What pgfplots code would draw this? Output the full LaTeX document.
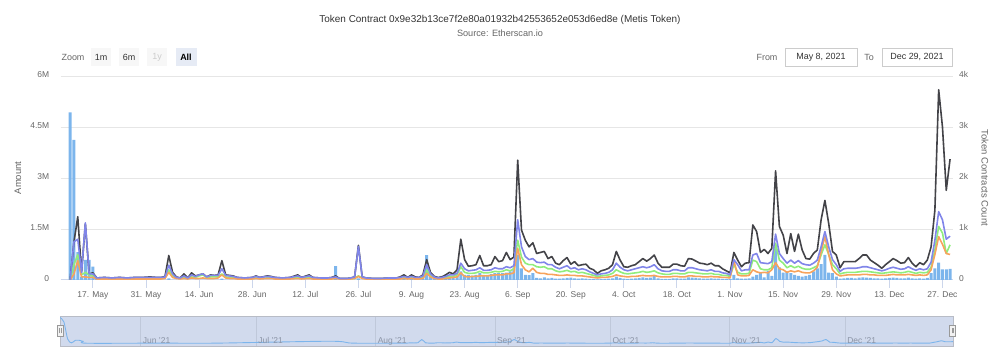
\documentclass[border=0pt]{standalone}
\usepackage{pgfplots}
\pgfplotsset{compat=1.18}
\usepackage{pgfplotstable}
\usepackage{fontspec}
\setmainfont{Liberation Sans}
\definecolor{cbar}{HTML}{7CB5EC}
\definecolor{cblk}{HTML}{434348}
\definecolor{cgrn}{HTML}{90ED7D}
\definecolor{corg}{HTML}{F7A35C}
\definecolor{cpur}{HTML}{8085E9}
\definecolor{cgrid}{HTML}{E6E6E6}
\definecolor{caxis}{HTML}{CCD6EB}
\definecolor{clab}{HTML}{666666}
\definecolor{ctitle}{HTML}{333333}
\definecolor{navfill}{HTML}{D1DAED}
\definecolor{navgrid}{HTML}{BFC8DA}
\definecolor{navlab}{HTML}{8A93A5}
\definecolor{navout}{HTML}{B8BCC6}
\definecolor{btn}{HTML}{F7F7F7}
\definecolor{btnsel}{HTML}{E6EBF5}
\definecolor{inbox}{HTML}{CCCCCC}

% Amount (bars), in millions; d = days after 8 May 2021
\pgfplotstableread{
d A
3 4.93
4 4.12
5 0.82
6 0.10
7 0.59
8 0.59
9 0.39
10 0.03
29 0.05
43 0.04
73 0.41
79 0.05
91 0.04
93 0.05
94 0.10
95 0.08
96 0.12
97 0.73
98 0.10
99 0.05
100 0.04
101 0.12
102 0.12
103 0.08
104 0.10
105 0.12
106 0.25
107 0.15
108 0.15
109 0.13
110 0.15
111 0.20
112 0.15
113 0.15
114 0.17
115 0.20
116 0.20
117 0.20
118 0.22
119 0.25
120 0.34
121 0.74
122 0.34
123 0.15
124 0.14
125 0.20
126 0.06
127 0.05
128 0.08
129 0.05
130 0.06
131 0.04
132 0.04
133 0.05
134 0.06
135 0.07
136 0.05
137 0.04
138 0.05
139 0.04
140 0.03
141 0.03
142 0.02
143 0.03
144 0.03
145 0.04
146 0.05
147 0.10
148 0.06
149 0.04
150 0.03
151 0.04
152 0.05
153 0.06
154 0.08
155 0.06
156 0.07
157 0.12
158 0.05
159 0.03
160 0.03
161 0.03
162 0.05
163 0.05
164 0.04
165 0.04
166 0.08
167 0.07
168 0.06
169 0.05
170 0.04
171 0.04
172 0.05
173 0.04
174 0.04
175 0.03
176 0.03
177 0.03
178 0.15
179 0.05
180 0.04
181 0.04
182 0.05
183 0.10
184 0.15
185 0.20
186 0.08
187 0.27
188 0.12
189 0.93
190 0.37
191 0.22
192 0.25
193 0.20
194 0.15
195 0.12
196 0.10
197 0.12
198 0.15
199 0.25
200 0.34
201 0.47
202 0.74
203 0.22
204 0.20
205 0.10
206 0.04
207 0.05
208 0.06
209 0.06
210 0.05
211 0.07
212 0.08
213 0.07
214 0.06
215 0.05
216 0.05
217 0.04
218 0.05
219 0.06
220 0.07
221 0.06
222 0.05
223 0.05
224 0.07
225 0.05
226 0.04
227 0.05
228 0.04
229 0.06
230 0.20
231 0.34
232 0.51
233 0.31
234 0.31
235 0.33
}\bars

% counts in thousands
\pgfplotstableread{
d B P G O
3 0 0 0 0
4 0.75 0.75 0.30 0.12
5 1.24 0.80 0.50 0.38
6 0.15 0.15 0.10 0.06
7 1.10 1.12 0.15 0.06
8 0.12 0.12 0.10 0.05
9 0.14 0.12 0.08 0.05
10 0.04 0.04 0.03 0.02
12 0.05 0.05 0.03 0.02
14 0.04 0.04 0.03 0.02
16 0.05 0.05 0.03 0.02
18 0.04 0.04 0.03 0.02
20 0.05 0.05 0.03 0.02
22 0.05 0.05 0.03 0.02
24 0.06 0.05 0.03 0.02
26 0.05 0.05 0.03 0.02
27 0.05 0.05 0.03 0.02
28 0.07 0.06 0.04 0.03
29 0.48 0.29 0.20 0.15
30 0.15 0.12 0.08 0.05
31 0.06 0.05 0.04 0.03
32 0.04 0.04 0.03 0.02
33 0.12 0.08 0.05 0.03
34 0.04 0.04 0.03 0.02
35 0.14 0.10 0.06 0.04
36 0.08 0.07 0.05 0.03
37 0.10 0.10 0.08 0.03
38 0.12 0.12 0.10 0.04
39 0.06 0.06 0.05 0.03
40 0.10 0.09 0.06 0.03
41 0.09 0.09 0.06 0.03
42 0.10 0.09 0.06 0.04
43 0.38 0.22 0.12 0.10
44 0.10 0.09 0.06 0.04
45 0.09 0.08 0.05 0.03
46 0.08 0.07 0.05 0.03
47 0.05 0.05 0.03 0.02
49 0.04 0.04 0.03 0.02
51 0.05 0.05 0.03 0.02
52 0.08 0.07 0.04 0.03
53 0.05 0.05 0.03 0.02
55 0.08 0.07 0.04 0.03
56 0.07 0.06 0.04 0.03
57 0.05 0.05 0.03 0.02
59 0.04 0.04 0.03 0.02
61 0.05 0.05 0.03 0.02
63 0.10 0.08 0.05 0.03
64 0.05 0.05 0.03 0.02
66 0.10 0.08 0.05 0.03
67 0.05 0.05 0.03 0.02
69 0.04 0.04 0.03 0.02
71 0.04 0.04 0.03 0.02
72 0.05 0.05 0.03 0.02
73 0.08 0.06 0.05 0.03
74 0.03 0.03 0.02 0.02
76 0.03 0.03 0.02 0.02
77 0.04 0.04 0.03 0.02
78 0.06 0.06 0.03 0.03
79 0.68 0.66 0.08 0.07
80 0.06 0.06 0.04 0.03
81 0.04 0.04 0.03 0.02
83 0.03 0.03 0.02 0.02
85 0.03 0.03 0.02 0.02
87 0.04 0.04 0.03 0.02
89 0.04 0.04 0.03 0.02
90 0.06 0.05 0.03 0.02
91 0.10 0.07 0.04 0.03
92 0.05 0.05 0.03 0.02
93 0.10 0.07 0.04 0.03
94 0.06 0.05 0.03 0.02
95 0.05 0.05 0.03 0.02
96 0.10 0.08 0.05 0.03
97 0.40 0.30 0.20 0.13
98 0.15 0.12 0.08 0.06
99 0.07 0.06 0.04 0.03
100 0.05 0.04 0.03 0.02
101 0.06 0.05 0.03 0.02
102 0.10 0.07 0.05 0.03
103 0.15 0.10 0.07 0.04
104 0.12 0.10 0.07 0.05
105 0.20 0.13 0.10 0.06
106 0.80 0.33 0.26 0.14
107 0.40 0.22 0.15 0.07
108 0.27 0.18 0.13 0.06
109 0.28 0.19 0.13 0.07
110 0.30 0.20 0.14 0.07
111 0.48 0.24 0.17 0.08
112 0.28 0.19 0.14 0.08
113 0.28 0.19 0.14 0.08
114 0.30 0.20 0.15 0.09
115 0.46 0.24 0.17 0.10
116 0.36 0.22 0.16 0.10
117 0.38 0.22 0.17 0.10
118 0.54 0.26 0.20 0.12
119 0.40 0.24 0.18 0.12
120 0.45 0.28 0.22 0.14
121 2.35 1.18 0.78 0.62
122 0.98 0.65 0.45 0.30
123 0.78 0.46 0.33 0.20
124 0.65 0.40 0.30 0.16
125 0.73 0.42 0.30 0.23
126 0.52 0.35 0.26 0.15
127 0.54 0.34 0.25 0.13
128 0.56 0.35 0.26 0.13
129 0.42 0.30 0.22 0.11
130 0.46 0.30 0.22 0.11
131 0.33 0.25 0.18 0.10
132 0.30 0.22 0.16 0.09
133 0.38 0.25 0.17 0.09
134 0.44 0.28 0.19 0.10
135 0.31 0.22 0.16 0.09
136 0.36 0.24 0.17 0.09
137 0.28 0.20 0.14 0.08
138 0.30 0.22 0.15 0.08
139 0.31 0.20 0.13 0.07
140 0.23 0.16 0.11 0.06
141 0.20 0.13 0.09 0.05
142 0.13 0.10 0.07 0.04
143 0.18 0.12 0.08 0.05
144 0.20 0.13 0.09 0.05
145 0.23 0.15 0.10 0.06
146 0.30 0.20 0.13 0.07
147 0.56 0.33 0.20 0.10
148 0.39 0.25 0.16 0.08
149 0.26 0.20 0.13 0.07
150 0.25 0.18 0.12 0.06
151 0.28 0.20 0.13 0.07
152 0.30 0.22 0.14 0.07
153 0.36 0.24 0.15 0.08
154 0.42 0.26 0.17 0.09
155 0.37 0.24 0.15 0.08
156 0.42 0.26 0.16 0.08
157 0.49 0.30 0.18 0.09
158 0.33 0.22 0.14 0.07
159 0.25 0.18 0.12 0.06
160 0.25 0.17 0.11 0.06
161 0.25 0.17 0.11 0.06
162 0.31 0.20 0.13 0.07
163 0.31 0.20 0.13 0.07
164 0.28 0.18 0.12 0.06
165 0.27 0.18 0.12 0.06
166 0.42 0.24 0.15 0.08
167 0.41 0.24 0.15 0.08
168 0.37 0.22 0.14 0.07
169 0.33 0.20 0.13 0.07
170 0.32 0.19 0.12 0.06
171 0.30 0.18 0.12 0.06
172 0.33 0.20 0.13 0.07
173 0.28 0.17 0.11 0.06
174 0.28 0.17 0.11 0.06
175 0.22 0.14 0.09 0.05
176 0.18 0.13 0.09 0.05
177 0.14 0.10 0.07 0.04
178 0.54 0.40 0.30 0.38
179 0.39 0.30 0.15 0.10
180 0.26 0.18 0.12 0.08
181 0.33 0.20 0.12 0.08
182 0.34 0.20 0.13 0.09
183 1.08 0.49 0.39 0.20
184 0.95 0.52 0.36 0.16
185 0.54 0.34 0.22 0.14
186 0.60 0.33 0.20 0.15
187 0.52 0.32 0.20 0.14
188 0.62 0.36 0.24 0.20
189 2.14 0.90 0.72 0.34
190 1.05 0.52 0.39 0.22
191 0.88 0.42 0.33 0.20
192 0.52 0.33 0.24 0.15
193 0.91 0.39 0.28 0.18
194 0.56 0.33 0.24 0.16
195 0.90 0.38 0.27 0.18
196 0.59 0.32 0.23 0.15
197 0.42 0.30 0.21 0.14
198 0.41 0.29 0.21 0.14
199 0.52 0.33 0.24 0.18
200 0.59 0.39 0.28 0.25
201 1.18 0.65 0.49 0.55
202 1.56 0.95 0.69 0.85
203 1.11 0.65 0.50 0.50
204 0.56 0.40 0.30 0.20
205 0.49 0.30 0.22 0.12
206 0.24 0.17 0.12 0.08
207 0.36 0.22 0.14 0.09
208 0.36 0.23 0.15 0.10
209 0.36 0.23 0.15 0.10
210 0.36 0.23 0.15 0.10
211 0.42 0.24 0.16 0.10
212 0.49 0.26 0.17 0.11
213 0.49 0.26 0.17 0.11
214 0.39 0.24 0.16 0.10
215 0.34 0.22 0.15 0.10
216 0.29 0.20 0.14 0.09
217 0.23 0.18 0.13 0.09
218 0.30 0.20 0.14 0.09
219 0.36 0.23 0.15 0.10
220 0.42 0.25 0.16 0.11
221 0.38 0.23 0.15 0.10
222 0.33 0.21 0.14 0.10
223 0.34 0.22 0.15 0.10
224 0.44 0.26 0.17 0.11
225 0.33 0.22 0.15 0.10
226 0.26 0.19 0.13 0.09
227 0.34 0.22 0.15 0.10
228 0.30 0.20 0.14 0.09
229 0.39 0.22 0.15 0.10
230 0.65 0.35 0.25 0.20
231 1.37 0.78 0.59 0.50
232 3.73 1.34 1.05 0.85
233 3.00 1.18 0.92 0.70
234 1.76 0.80 0.52 0.52
235 2.37 0.86 0.69 0.50
}\lines

\newcommand\fs[1]{\fontsize{#1}{#1}\selectfont}

\begin{document}
\begin{tikzpicture}
\useasboundingbox (0bp,0bp) rectangle (1000bp,354bp);

% main left axis: Amount (bars)
\begin{axis}[at={(60.7bp,74bp)}, anchor=south west, scale only axis,
  width=892bp, height=204bp,
  xmin=0.5, xmax=235.7, ymin=0, ymax=6,
  axis x line*=bottom, axis y line*=left,
  x axis line style={draw=caxis, line width=1bp},
  y axis line style={draw=none},
  xtick={9,23,37,51,65,79,93,107,121,135,149,163,177,191,205,219,233},
  xticklabels={17. May,31. May,14. Jun,28. Jun,12. Jul,26. Jul,9. Aug,23. Aug,6. Sep,20. Sep,4. Oct,18. Oct,1. Nov,15. Nov,29. Nov,13. Dec,27. Dec},
  tick align=outside, major tick length=8bp,
  xtick style={draw=caxis, line width=1bp},
  ytick={0,1.5,3,4.5,6}, yticklabels={0,1.5M,3M,4.5M,6M},
  ytick style={draw=none},
  ymajorgrids, grid style={cgrid, line width=1bp},
  xticklabel style={font=\fs{8.5}, text=clab},
  yticklabel style={font=\fs{8.5}, text=clab},
  typeset ticklabels with strut,
]
\addplot[ybar, bar width=3bp, bar shift=0pt, fill=cbar, draw=none] table[x=d,y=A]{\bars};
\end{axis}

% main right axis: counts (lines)
\begin{axis}[at={(60.7bp,74bp)}, anchor=south west, scale only axis,
  width=892bp, height=204bp,
  xmin=0.5, xmax=235.7, ymin=0, ymax=4,
  axis x line=none, axis y line*=right,
  y axis line style={draw=none},
  ytick={0,1,2,3,4}, yticklabels={0,1k,2k,3k,4k},
  ytick style={draw=none},
  yticklabel style={font=\fs{8.5}, text=clab, xshift=3bp},
  typeset ticklabels with strut,
]
\addplot[cblk, line width=1.6bp, line join=round] table[x=d,y=B]{\lines};
\addplot[cgrn, line width=1.6bp, line join=round] table[x=d,y=G]{\lines};
\addplot[corg, line width=1.6bp, line join=round] table[x=d,y=O]{\lines};
\addplot[cpur, line width=1.6bp, line join=round] table[x=d,y=P]{\lines};
\end{axis}

% navigator
\begin{axis}[at={(60bp,8bp)}, anchor=south west, scale only axis,
  width=893bp, height=29.3bp,
  xmin=3, xmax=235, ymin=-0.5, ymax=5.1,
  axis background/.style={fill=navfill},
  axis line style={draw=navout, line width=0.8bp},
  xtick={24,54,85,116,146,177,207}, xticklabels={},
  xmajorgrids, grid style={navgrid, line width=0.8bp},
  ytick=\empty, major tick length=0pt,
]
\addplot[cbar, line width=0.9bp, smooth] table[x=d,y=A]{\bars};
\node[anchor=base west, font=\fs{8.5}, text=navlab, inner sep=0pt] at (axis cs:24.5,0) {Jun '21};
\node[anchor=base west, font=\fs{8.5}, text=navlab, inner sep=0pt] at (axis cs:54.5,0) {Jul '21};
\node[anchor=base west, font=\fs{8.5}, text=navlab, inner sep=0pt] at (axis cs:85.5,0) {Aug '21};
\node[anchor=base west, font=\fs{8.5}, text=navlab, inner sep=0pt] at (axis cs:116.5,0) {Sep '21};
\node[anchor=base west, font=\fs{8.5}, text=navlab, inner sep=0pt] at (axis cs:146.5,0) {Oct '21};
\node[anchor=base west, font=\fs{8.5}, text=navlab, inner sep=0pt] at (axis cs:177.5,0) {Nov '21};
\node[anchor=base west, font=\fs{8.5}, text=navlab, inner sep=0pt] at (axis cs:207.5,0) {Dec '21};
\end{axis}

\begin{scope}[x=1bp,y=1bp]
% titles
\node[font=\fs{10}, text=ctitle] at (500,334) {Token Contract 0x9e32b13ce7f2e80a01932b42553652e053d6ed8e (Metis Token)};
\node[font=\fs{9.2}, text=clab] at (500,321) {Source: Etherscan.io};

% range selector
\node[font=\fs{9}, text=clab] at (73,297) {Zoom};
\node[fill=btn, minimum width=20bp, minimum height=18bp, inner sep=0pt, font=\fs{9}, text=ctitle] at (101,297) {1m};
\node[fill=btn, minimum width=20bp, minimum height=18bp, inner sep=0pt, font=\fs{9}, text=ctitle] at (129,297) {6m};
\node[fill=btn, minimum width=20bp, minimum height=18bp, inner sep=0pt, font=\fs{9}, text=inbox] at (157,297) {1y};
\node[fill=btnsel, minimum width=21bp, minimum height=18bp, inner sep=0pt, font=\fs{9}\bfseries, text=black] at (186,297) {All};
\node[font=\fs{9}, text=clab] at (767,297) {From};
\node[draw=inbox, line width=0.8bp, minimum width=72bp, minimum height=18bp, inner sep=0pt, font=\fs{9}, text=ctitle] at (821,297) {May 8, 2021};
\node[font=\fs{9}, text=clab] at (869,297) {To};
\node[draw=inbox, line width=0.8bp, minimum width=70bp, minimum height=18bp, inner sep=0pt, font=\fs{9}, text=ctitle] at (917,297) {Dec 29, 2021};

\node[rotate=90, font=\fs{9.5}, text=clab] at (18,176) {Amount};
\node[rotate=-90, font=\fs{9.5}, text=clab] at (985,176) {Token Contracts Count};

% navigator handles
\draw[fill=black!5, draw=black!40, line width=0.7bp] (57.3,17.5) rectangle (63.3,29);
\draw[black!40, line width=0.6bp] (59.5,20.5) -- (59.5,26) (61.1,20.5) -- (61.1,26);
\draw[fill=black!5, draw=black!40, line width=0.7bp] (949.7,17.5) rectangle (955.7,29);
\draw[black!40, line width=0.6bp] (951.9,20.5) -- (951.9,26) (953.5,20.5) -- (953.5,26);
\end{scope}
\end{tikzpicture}
\end{document}
